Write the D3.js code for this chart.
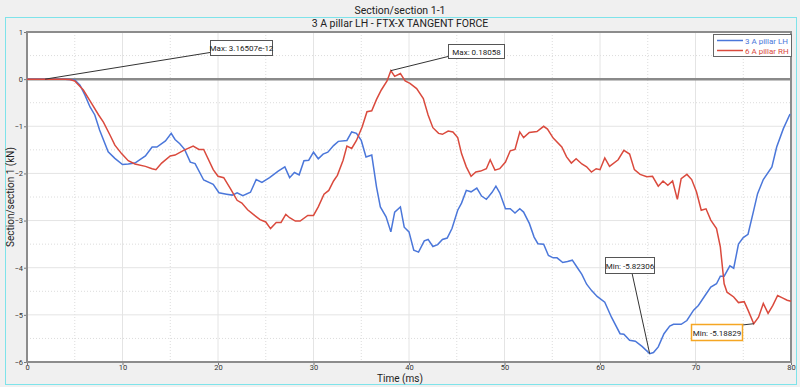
<!DOCTYPE html>
<html>
<head>
<meta charset="utf-8">
<script src="https://cdn.jsdelivr.net/npm/d3@7"></script>
<style>
    body { margin: 0; background: #f0f0f0; }
    #chart { width: 800px; height: 387px; }
    text { font-family: Roboto, "Noto Sans", sans-serif; }
</style>
</head>
<body>
<div id="chart"></div>
<script>
// [time (ms), force (kN)]
var lhPoints = [[0,0],[2,0],[4,0],[4.5,-0.01],[5.0,-0.02],[5.55,-0.13],[6.07,-0.34],[6.6,-0.59],[7.1,-0.76],[7.6,-1.08],[8.5,-1.54],[9.2,-1.68],[10.0,-1.81],[10.6,-1.80],[11.3,-1.78],[12.4,-1.63],[13.1,-1.44],[13.6,-1.44],[14.5,-1.31],[15.1,-1.15],[15.5,-1.28],[16.0,-1.37],[16.5,-1.49],[17.1,-1.76],[17.6,-1.79],[18.5,-2.14],[19.5,-2.23],[20.1,-2.41],[20.9,-2.44],[21.5,-2.46],[22.0,-2.41],[22.6,-2.47],[23.4,-2.40],[24.0,-2.13],[24.6,-2.19],[25.4,-2.09],[26.3,-1.95],[27.0,-1.86],[27.5,-2.09],[28.0,-1.98],[28.5,-2.03],[29.0,-1.73],[29.5,-1.72],[30.0,-1.55],[30.5,-1.69],[31.0,-1.59],[31.5,-1.55],[32.1,-1.41],[32.6,-1.32],[33.5,-1.30],[34.0,-1.12],[34.5,-1.15],[35.0,-1.30],[35.5,-1.65],[36.1,-1.61],[36.6,-2.29],[37.0,-2.71],[37.6,-2.92],[38.1,-3.24],[38.5,-2.82],[39.1,-2.71],[39.5,-3.14],[40.0,-3.24],[40.5,-3.63],[41.0,-3.67],[41.6,-3.43],[42.0,-3.40],[42.5,-3.55],[43.0,-3.51],[43.5,-3.40],[44.0,-3.37],[44.5,-3.17],[45.1,-2.78],[45.5,-2.63],[46.0,-2.36],[46.5,-2.39],[47.1,-2.31],[47.6,-2.48],[48.1,-2.55],[48.7,-2.40],[49.1,-2.27],[49.5,-2.41],[50.1,-2.75],[50.6,-2.75],[51.1,-2.84],[51.6,-2.75],[52.0,-2.82],[52.6,-3.06],[53.1,-3.35],[53.5,-3.49],[54.1,-3.50],[54.6,-3.74],[55.1,-3.79],[55.5,-3.79],[56.1,-3.89],[56.6,-3.87],[57.1,-3.84],[57.6,-3.99],[58.1,-4.14],[58.6,-4.35],[59.1,-4.48],[59.7,-4.61],[60.5,-4.73],[61.2,-5.05],[62.1,-5.40],[62.5,-5.41],[63.1,-5.54],[63.7,-5.56],[64.4,-5.67],[65.2,-5.82306],[65.6,-5.80],[66.1,-5.68],[66.7,-5.40],[67.3,-5.24],[67.7,-5.20],[68.5,-5.20],[69.1,-5.12],[69.8,-4.90],[70.3,-4.80],[71.0,-4.59],[71.6,-4.41],[72.2,-4.34],[72.6,-4.18],[73.0,-4.18],[73.6,-3.96],[74.0,-4.01],[74.5,-3.50],[75.0,-3.36],[75.5,-3.29],[76.1,-2.78],[76.5,-2.43],[77.1,-2.13],[78.0,-1.86],[78.5,-1.44],[79.2,-1.05],[79.9,-0.74]];

var rhPoints = [[0,0],[2,0],[4,0],[4.5,-0.01],[5.0,-0.04],[5.9,-0.23],[6.6,-0.46],[7.5,-0.76],[8.0,-0.91],[8.7,-1.19],[9.2,-1.40],[9.9,-1.58],[10.6,-1.73],[11.3,-1.80],[12.4,-1.85],[13.1,-1.90],[13.5,-1.92],[14.1,-1.78],[15.0,-1.63],[15.5,-1.61],[16.4,-1.51],[17.4,-1.42],[18.0,-1.49],[18.5,-1.49],[19.5,-1.92],[20.0,-2.06],[20.6,-2.09],[21.3,-2.32],[22.0,-2.57],[22.5,-2.63],[23.1,-2.77],[23.7,-2.87],[24.4,-2.98],[25.0,-3.03],[25.5,-3.17],[26.1,-3.04],[26.6,-3.04],[27.1,-2.87],[27.5,-2.94],[28.1,-3.01],[28.6,-3.01],[29.4,-2.89],[30.0,-2.89],[30.5,-2.71],[31.1,-2.44],[31.6,-2.36],[32.1,-2.16],[32.5,-2.04],[33.1,-1.72],[33.5,-1.42],[34.0,-1.47],[34.5,-1.30],[35.1,-1.01],[35.6,-0.69],[36.1,-0.67],[36.6,-0.43],[37.1,-0.23],[37.7,-0.04],[38.1,0.18058],[38.5,0.06],[39.1,0.12],[39.6,-0.04],[40.1,-0.09],[40.8,-0.20],[41.5,-0.41],[42.0,-0.76],[42.5,-1.03],[43.1,-1.15],[43.5,-1.17],[44.1,-1.10],[44.6,-1.12],[45.1,-1.24],[45.5,-1.58],[46.0,-1.86],[46.5,-2.06],[47.0,-1.97],[47.5,-1.95],[48.1,-1.90],[48.5,-1.71],[49.0,-1.93],[49.5,-1.90],[50.1,-1.76],[50.6,-1.52],[51.1,-1.49],[51.6,-1.12],[52.0,-1.24],[52.6,-1.13],[53.4,-1.11],[54.1,-1.00],[54.5,-1.06],[55.1,-1.25],[56.0,-1.44],[56.5,-1.65],[57.0,-1.78],[57.5,-1.69],[58.1,-1.80],[58.6,-1.86],[59.1,-1.97],[59.6,-1.90],[60.0,-1.92],[60.5,-1.67],[61.0,-1.85],[61.9,-1.71],[62.5,-1.51],[63.1,-1.59],[63.6,-1.92],[64.2,-2.02],[64.9,-2.07],[65.5,-2.06],[66.1,-2.27],[66.6,-2.16],[67.1,-2.25],[67.6,-2.16],[68.1,-2.55],[68.5,-2.11],[69.1,-2.02],[69.6,-2.13],[70.1,-2.39],[70.6,-2.78],[71.1,-2.75],[71.6,-2.99],[72.2,-3.17],[72.6,-3.56],[73.0,-4.34],[73.3,-4.52],[74.0,-4.62],[74.5,-4.74],[75.1,-4.72],[75.5,-4.90],[76.1,-5.18829],[76.6,-5.05],[77.1,-4.76],[77.6,-4.97],[78.1,-4.80],[78.6,-4.59],[79.1,-4.64],[79.6,-4.69],[80,-4.71]];

var seriesNames = ["3 A pillar LH", "6 A pillar RH"];
var seriesColors = ["#4b77da", "#da4a3d"];
var xTicks = [0, 10, 20, 30, 40, 50, 60, 70, 80];
var yTicks = [1, 0, -1, -2, -3, -4, -5, -6];

// annotation text and the data point it marks
var notes = [
    {text: "Max: 3.16507e-12", t: 1.9, v: 0},
    {text: "Max: 0.18058", t: 38.1, v: 0.18058},
    {text: "Min: -5.82306", t: 65.2, v: -5.82306},
    {text: "Min: -5.18829", t: 76.1, v: -5.18829}
];

var width = 800;
var height = 387;
var margin = {top: 32, left: 27, right: 9, bottom: 25};

var svg = d3.select("#chart")
    .append("svg")
    .attr("width", width)
    .attr("height", height);

var xScale = d3.scaleLinear()
    .domain([0, 80])
    .range([margin.left, width - margin.right]);

var yScale = d3.scaleLinear()
    .domain([-6, 1])
    .range([height - margin.bottom, margin.top]);

// titles
svg.append("text")
    .attr("x", width/2)
    .attr("y", 14)
    .attr("text-anchor", "middle")
    .style("font-size", "10.5px")
    .attr("fill", "#222")
    .text("Section/section 1-1");

// cyan frame
svg.append("rect")
    .attr("x", 5.5)
    .attr("y", 17.5)
    .attr("width", 791)
    .attr("height", 367)
    .attr("fill", "#f0f0f0")
    .attr("stroke", "#7ee3ea")
    .attr("stroke-width", 1);

svg.append("text")
    .attr("x", width/2)
    .attr("y", 27)
    .attr("text-anchor", "middle")
    .style("font-size", "10.5px")
    .attr("fill", "#222")
    .text("3 A pillar LH - FTX-X TANGENT FORCE");

// plot area
svg.append("rect")
    .attr("x", xScale(0))
    .attr("y", yScale(1))
    .attr("width", xScale(80) - xScale(0))
    .attr("height", yScale(-6) - yScale(1))
    .attr("fill", "white");

// minor grid (dotted)
svg.append("g")
    .selectAll("line")
    .data(d3.range(5, 80, 10))
    .enter()
    .append("line")
        .attr("x1", function(d) { return xScale(d); })
        .attr("x2", function(d) { return xScale(d); })
        .attr("y1", yScale(1))
        .attr("y2", yScale(-6))
        .attr("stroke", "#dcdcdc")
        .attr("stroke-dasharray", "1,2");

svg.append("g")
    .selectAll("line")
    .data(d3.range(-5.5, 1, 1))
    .enter()
    .append("line")
        .attr("x1", xScale(0))
        .attr("x2", xScale(80))
        .attr("y1", function(d) { return yScale(d); })
        .attr("y2", function(d) { return yScale(d); })
        .attr("stroke", "#dcdcdc")
        .attr("stroke-dasharray", "1,2");

// major grid
svg.append("g")
    .selectAll("line")
    .data(xTicks)
    .enter()
    .append("line")
        .attr("x1", function(d) { return xScale(d); })
        .attr("x2", function(d) { return xScale(d); })
        .attr("y1", yScale(1))
        .attr("y2", yScale(-6))
        .attr("stroke", "#e4e4e4");

svg.append("g")
    .selectAll("line")
    .data(yTicks)
    .enter()
    .append("line")
        .attr("x1", xScale(0))
        .attr("x2", xScale(80))
        .attr("y1", function(d) { return yScale(d); })
        .attr("y2", function(d) { return yScale(d); })
        .attr("stroke", "#e4e4e4");

// zero line
svg.append("line")
    .attr("x1", xScale(0))
    .attr("x2", xScale(80))
    .attr("y1", yScale(0))
    .attr("y2", yScale(0))
    .attr("stroke", "#8a8a8a")
    .attr("stroke-width", 2.5);

// axes
var xAxis = svg.append("g")
    .attr("transform", `translate(0,${yScale(-6)})`)
    .call(d3.axisBottom().scale(xScale).tickValues(xTicks)
        .tickFormat(d3.format("d")).tickSize(3).tickPadding(0));

var yAxis = svg.append("g")
    .attr("transform", `translate(${xScale(0)},0)`)
    .call(d3.axisLeft().scale(yScale).tickValues(yTicks)
        .tickFormat(d3.format("d")).tickSize(3).tickPadding(1));

svg.selectAll(".tick text")
    .style("font-size", "7.5px")
    .style("font-family", "Roboto, sans-serif")
    .attr("fill", "#333");
svg.selectAll(".tick line").attr("stroke", "#777");
svg.selectAll(".domain").remove();

// plot frame
svg.append("rect")
    .attr("x", xScale(0))
    .attr("y", yScale(1))
    .attr("width", xScale(80) - xScale(0))
    .attr("height", yScale(-6) - yScale(1))
    .attr("fill", "none")
    .attr("stroke", "#8c8c8c")
    .attr("stroke-width", 2);

svg.append("text")
    .attr("x", width/2)
    .attr("y", 381.5)
    .attr("text-anchor", "middle")
    .style("font-size", "10px")
    .attr("fill", "#222")
    .text("Time (ms)");

svg.append("text")
    .attr("transform", "rotate(-90)")
    .attr("x", -(yScale(1) + yScale(-6))/2)
    .attr("y", 14)
    .attr("text-anchor", "middle")
    .style("font-size", "10px")
    .attr("fill", "#222")
    .text("Section/section 1 (kN)");

// lines
var line = d3.line()
    .x(function(d) { return xScale(d[0]); })
    .y(function(d) { return yScale(d[1]); });

svg.append("path")
    .datum(lhPoints)
    .attr("d", line)
    .attr("fill", "none")
    .attr("stroke", seriesColors[0])
    .attr("stroke-width", 1.5);

svg.append("path")
    .datum(rhPoints)
    .attr("d", line)
    .attr("fill", "none")
    .attr("stroke", seriesColors[1])
    .attr("stroke-width", 1.5);

// legend
var legend = svg.append("g");
legend.append("rect")
    .attr("x", 713.5)
    .attr("y", 34.5)
    .attr("width", 78)
    .attr("height", 22)
    .attr("fill", "white")
    .attr("stroke", "#666");

legend.selectAll(".legLine")
    .data(seriesNames)
    .enter()
    .append("line")
        .attr("x1", 717)
        .attr("x2", 743)
        .attr("y1", function(d, i) { return 40.5 + i*10; })
        .attr("y2", function(d, i) { return 40.5 + i*10; })
        .attr("stroke", function(d, i) { return seriesColors[i]; })
        .attr("stroke-width", 1.5);

legend.selectAll(".legText")
    .data(seriesNames)
    .enter()
    .append("text")
        .attr("x", 745)
        .attr("y", function(d, i) { return 43.5 + i*10; })
        .style("font-size", "8px")
        .attr("fill", function(d, i) { return seriesColors[i]; })
        .text(function(d) { return d; });

// annotation boxes: box position in px, plus where the leader line meets the box
var boxes = [
    {x: 210, y: 40, w: 62, h: 15, lx: 210, ly: 52.5, stroke: "#555"},
    {x: 448, y: 44, w: 56, h: 14, lx: 448, ly: 56.5, stroke: "#555"},
    {x: 605, y: 257, w: 49, h: 16, lx: 632, ly: 273, stroke: "#555"},
    {x: 691, y: 324, w: 51, h: 16, lx: 742, ly: 325, stroke: "#f5a623"}
];

notes.forEach(function(n, i) {
    var b = boxes[i];
    svg.append("line")
        .attr("x1", xScale(n.t))
        .attr("y1", yScale(n.v))
        .attr("x2", b.lx)
        .attr("y2", b.ly)
        .attr("stroke", "#333")
        .attr("stroke-width", 1);
    svg.append("rect")
        .attr("x", b.x + 0.5)
        .attr("y", b.y + 0.5)
        .attr("width", b.w)
        .attr("height", b.h)
        .attr("fill", "white")
        .attr("stroke", b.stroke)
        .attr("stroke-width", i == 3 ? 1.5 : 1);
    svg.append("text")
        .attr("x", b.x + b.w/2 + 0.5)
        .attr("y", b.y + b.h/2 + 3.5)
        .attr("text-anchor", "middle")
        .style("font-size", "8px")
        .attr("fill", "#222")
        .text(n.text);
});
</script>
</body>
</html>
